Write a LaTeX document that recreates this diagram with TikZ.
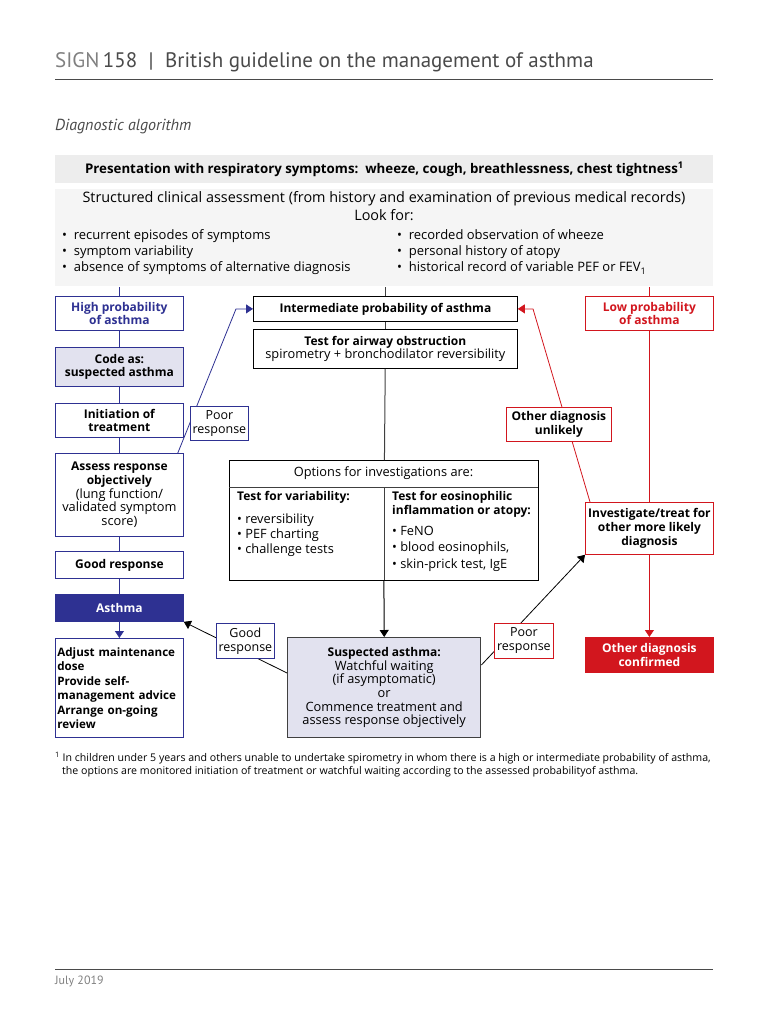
\documentclass[tikz,border=0pt]{standalone}
\usepackage{fontspec}
\setmainfont{Open Sans}
\newfontfamily\hdrfont{PT Sans}
\usetikzlibrary{arrows.meta,calc}
\definecolor{navy}{HTML}{2E3192}
\definecolor{sred}{HTML}{D2161E}
\definecolor{lav}{HTML}{E2E2EF}
\definecolor{gA}{HTML}{EDEDED}
\definecolor{gB}{HTML}{F5F5F5}
\definecolor{hgray}{HTML}{4A4A4A}
\newcommand{\bxf}{\fontsize{12}{13.7}\selectfont}
\newcommand{\rgf}{\fontsize{12.8}{13.7}\selectfont}
\newcommand{\btf}{\fontsize{13}{16}\selectfont}
\begin{document}
\begin{tikzpicture}[x=1pt,y=-1pt,
  base/.style={anchor=north west,inner sep=1pt,align=center,font=\bxf,line width=0.8pt},
  bbox/.style={base,draw=navy,fill=white},
  rbox/.style={base,draw=sred,fill=white},
  kbox/.style={base,draw=black,fill=white},
  tip/.style={-{Triangle[width=9pt,length=7pt]}},
  bln/.style={draw=navy,line width=0.8pt},
  rln/.style={draw=sred,line width=0.8pt},
  kln/.style={draw=black!75,line width=1pt},
  txt/.style={inner sep=0pt,font=\btf}
]
\useasboundingbox (0,0) rectangle (768,1024);
% header
\node[anchor=base west,inner sep=0pt,text=hgray,font=\hdrfont\fontsize{21}{24}\selectfont] (hdr) at (55,68) {{\color{gray}SIGN}\,158 \;|\; British guideline on the management of asthma};
\draw[hgray,line width=0.9pt] (55,79) -- (713,79);
\node[anchor=base west,inner sep=0pt,text=hgray,font=\hdrfont\fontsize{16}{18}\selectfont\itshape] (diag) at (55,131) {Diagnostic algorithm};
% gray boxes
\node[base,fill=gA,minimum width=658pt,minimum height=28pt,font=\fontsize{13.3}{16}\selectfont\bfseries] (pres) at (55,155) {Presentation with respiratory symptoms:\ \ wheeze, cough, breathlessness, chest tightness\textsuperscript{1}};
\node[base,fill=gB,minimum width=658pt,minimum height=97pt] (struct) at (55,189) {};
\node[txt,font=\fontsize{14.4}{16}\selectfont] (st1) at (384,199) {Structured clinical assessment (from history and examination of previous medical records)};
\node[txt,font=\fontsize{14.4}{16}\selectfont] (st2) at (384,215) {Look for:};
\node[txt,anchor=west,align=left] (lb) at (62,252) {\textbullet\ \ recurrent episodes of symptoms\\\textbullet\ \ symptom variability\\\textbullet\ \ absence of symptoms of alternative diagnosis};
\node[txt,anchor=west,align=left] (rb) at (397,252) {\textbullet\ \ recorded observation of wheeze\\\textbullet\ \ personal history of atopy\\\textbullet\ \ historical record of variable PEF or FEV\textsubscript{1}};
% left column
\node[bbox,minimum width=128pt,minimum height=34pt,text=navy,font=\bxf\bfseries] (high) at (55,296) {High probability\\of asthma};
\node[bbox,fill=lav,minimum width=128pt,minimum height=39pt,font=\bxf\bfseries] (code) at (55,347) {Code as:\\suspected asthma};
\node[bbox,minimum width=128pt,minimum height=34pt,font=\bxf\bfseries] (init) at (55,403) {Initiation of\\treatment};
\node[bbox,minimum width=128pt,minimum height=83pt,font=\rgf] (assess) at (55,453) {{\bxf\bfseries Assess response}\\{\bxf\bfseries objectively}\\(lung function/\\validated symptom\\score)};
\node[bbox,minimum width=128pt,minimum height=27pt,font=\bxf\bfseries] (good) at (55,551) {Good response};
\node[bbox,fill=navy,minimum width=128pt,minimum height=27pt,text=white,font=\bxf\bfseries] (asthma) at (55,594) {Asthma};
\node[bbox,minimum width=128pt,minimum height=99pt,text width=124pt,align=left,inner sep=2pt,font=\fontsize{11.6}{13.5}\selectfont\bfseries] (adjust) at (55,638) {Adjust maintenance\\dose\\[2pt]Provide self-\\management advice\\[2pt]Arrange on-going\\review};
% center column
\node[kbox,minimum width=264pt,minimum height=25pt,font=\bxf\bfseries] (inter) at (253,296) {Intermediate probability of asthma};
\node[kbox,minimum width=264pt,minimum height=39pt,font=\rgf] (test) at (253,329) {{\bxf\bfseries Test for airway obstruction}\\spirometry + bronchodilator reversibility};
\node[kbox,minimum width=309pt,minimum height=120pt] (opt) at (229,460) {};
\draw[kln] (229,487) -- (538,487);
\draw[kln] (384,487) -- (384,580);
\node[txt,font=\rgf] (opth) at (383.5,473.5) {Options for investigations are:};
\node[txt,anchor=north west,align=left,font=\fontsize{12.8}{15}\selectfont] (optl) at (237,491) {{\bxf\bfseries Test for variability:}\\[8pt]\textbullet\ reversibility\\\textbullet\ PEF charting\\\textbullet\ challenge tests};
\node[txt,anchor=north west,align=left,font=\fontsize{12.8}{16.5}\selectfont] (optr) at (392,491) {{\bxf\bfseries Test for eosinophilic}\\[-2pt]{\bxf\bfseries inflammation or atopy:}\\[4pt]\textbullet\ FeNO\\\textbullet\ blood eosinophils,\\\textbullet\ skin-prick test, IgE};
\node[base,draw=black!75,line width=1.4pt,fill=lav,minimum width=193pt,minimum height=100pt,font=\rgf] (susp) at (287,637) {{\bxf\bfseries Suspected asthma:}\\Watchful waiting\\(if asymptomatic)\\or\\Commence treatment and\\assess response objectively};
% right column
\node[rbox,minimum width=128pt,minimum height=34pt,text=sred,font=\bxf\bfseries] (low) at (585,296) {Low probability\\of asthma};
\node[rbox,minimum width=128pt,minimum height=52pt,font=\bxf\bfseries] (inv) at (585,502) {Investigate/treat for\\other more likely\\diagnosis};
\node[base,draw=sred,fill=sred,minimum width=128pt,minimum height=35pt,text=white,font=\bxf\bfseries] (conf) at (585,637) {Other diagnosis\\confirmed};
% connectors
\draw[bln] (high.north) -- (high.north |- struct.south);
\draw[kln] (inter.north) -- (inter.north |- struct.south);
\draw[rln] (low.north) -- (low.north |- struct.south);
\draw[bln] (high) -- (code);
\draw[bln] (code) -- (init);
\draw[bln] (init) -- (assess);
\draw[bln] (assess) -- (good);
\draw[bln] (good) -- (asthma);
\draw[bln,tip,navy] (asthma) -- (adjust);
\draw[kln] (inter) -- (test);
\draw[kln] (test) -- (opt);
\draw[kln,tip,black] (opt.south) -- (susp.north);
\draw[rln] (low) -- (inv);
\draw[rln,tip,sred] (inv) -- (conf);
\coordinate (pl) at (236,308);
\coordinate (pr) at (533,308);
\draw[bln,tip,navy] ($(assess.north east)+(-6,0)$) -- (inter.west -| pl) -- (inter.west);
\draw[rln,tip,sred] ($(inv.north west)+(5,0)$) -- (inter.east -| pr) -- (inter.east);
\draw[kln,line width=0.8pt,tip,black] ($(susp.north west)+(0,36)$) -- (asthma.south east);
\draw[kln,line width=0.8pt,tip,black] ($(susp.north east)+(0,28)$) -- (inv.south west);
% response labels
\node[bbox,minimum width=58pt,minimum height=34pt,font=\fontsize{12.5}{14}\selectfont] (poorL) at (190,406) {Poor\\response};
\node[rbox,minimum width=105pt,minimum height=34pt,font=\bxf\bfseries] (unlik) at (506,407) {Other diagnosis\\unlikely};
\node[bbox,minimum width=58pt,minimum height=35pt,font=\fontsize{12.5}{14}\selectfont] (goodM) at (216,623) {Good\\response};
\node[rbox,minimum width=59pt,minimum height=35pt,font=\fontsize{12.5}{14}\selectfont] (poorR) at (494,623) {Poor\\response};
% footnote
\node[anchor=base west,inner sep=0pt,font=\fontsize{10.6}{12}\selectfont] (fn1) at (55,761) {\textsuperscript{1} In children under 5 years and others unable to undertake spirometry in whom there is a high or intermediate probability of asthma,};
\node[anchor=base west,inner sep=0pt,font=\fontsize{10.6}{12}\selectfont] (fn2) at (62,774) {the options are monitored initiation of treatment or watchful waiting according to the assessed probabilityof asthma.};
% footer
\draw[hgray,line width=0.9pt] (55,969) -- (713,969);
\node[anchor=base west,inner sep=0pt,text=gray,font=\hdrfont\fontsize{12}{13}\selectfont] (date) at (55,984) {July 2019};
\end{tikzpicture}
\end{document}
